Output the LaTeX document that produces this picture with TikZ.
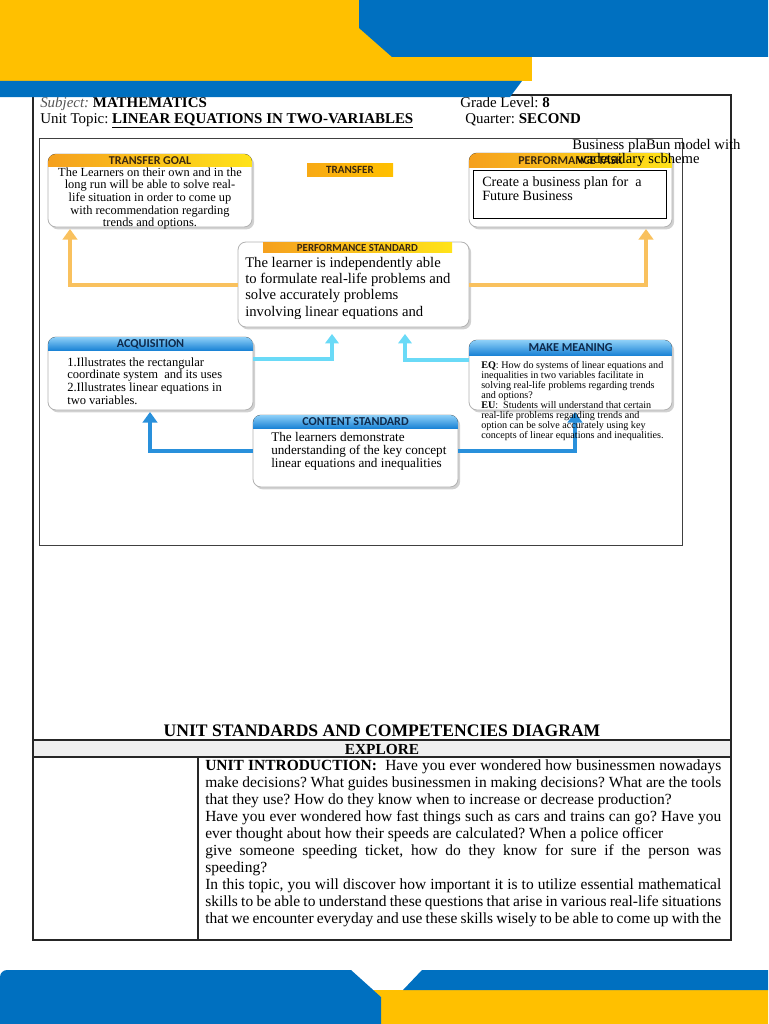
\documentclass[tikz,border=0pt]{standalone}
\usepackage{fontspec}
\setmainfont{Liberation Serif}
\newfontfamily\hdfont{Carlito}
\usetikzlibrary{shadows,arrows.meta,fit}
\definecolor{bannerY}{HTML}{FFC000}
\definecolor{bannerB}{HTML}{0070C0}
\definecolor{orgL}{HTML}{F5A01E}
\definecolor{orgR}{HTML}{FFE31A}
\definecolor{bluT}{HTML}{8ED0F8}
\definecolor{bluB}{HTML}{1C84D6}
\definecolor{lineO}{HTML}{F9C15E}
\definecolor{lineC}{HTML}{6ADAF7}
\definecolor{lineB}{HTML}{2990DB}
\definecolor{hdO}{HTML}{3A2810}
\definecolor{hdB}{HTML}{0E2A4C}
\definecolor{subj}{HTML}{555555}
\definecolor{explore}{HTML}{EFEFEF}
\newcommand\cardbox[8]{%
  \node[cardbody, fit={(#2,#3) (#4,#5)}] (#1) {};
  \begin{scope}
    \clip[rounded corners=6pt] (#2,#3) rectangle (#4,#5);
    \fill[#7] (#2,#3) rectangle (#4,#6);
  \end{scope}
  \node[#7text] at ({(#2+#4)/2},{(#3+#6)/2+0.5}) {#8};
}
\begin{document}
\frenchspacing
\begin{tikzpicture}[x=0.75pt,y=-0.75pt,
  cardbody/.style={draw=gray!60, fill=white, inner sep=0pt, rounded corners=6pt, line width=0.6pt,
    drop shadow={shadow xshift=1.6pt, shadow yshift=-1.8pt, opacity=0.45, fill=gray!80}},
  ohead/.style={left color=orgL, right color=orgR},
  bhead/.style={top color=bluT, bottom color=bluB},
  oheadtext/.style={font=\hdfont\bfseries\fontsize{9}{9.5}\selectfont, text=hdO, inner sep=0pt},
  bheadtext/.style={font=\hdfont\bfseries\fontsize{9.1}{9.5}\selectfont, text=hdB, inner sep=0pt},
  txt/.style={anchor=base west, inner sep=0pt},
  oarrow/.style={draw=lineO, line width=3pt, -{Triangle[width=11pt,length=8pt]}},
  carrow/.style={draw=lineC, line width=3pt, -{Triangle[width=10pt,length=7pt]}},
  barrow/.style={draw=lineB, line width=3.6pt, -{Triangle[width=11pt,length=8pt]}},
  tline/.style={draw=black!85, line width=0.8pt}]
\useasboundingbox (0,0) rectangle (768,1024);

% ---------- table frame ----------
\fill[explore] (33,740) rectangle (731,757);
\draw[tline] (33,95) rectangle (731,940);
\draw[tline] (33,740) -- (731,740);
\draw[tline] (33,757) -- (731,757);
\draw[tline] (198,757) -- (198,940);

% ---------- header ----------
\node[txt, font=\fontsize{11.2}{12}\selectfont] (subject) at (40,108) {\textcolor{subj}{\textit{Subject:}} \textbf{MATHEMATICS}};
\node[txt, font=\fontsize{11.2}{12}\selectfont] (grade) at (460,108) {Grade Level: \textbf{8}};
\node[txt, font=\fontsize{11.2}{12}\selectfont] (topic) at (40,123) {Unit Topic: \textbf{\underline{LINEAR EQUATIONS IN TWO-VARIABLES}}};
\node[txt, font=\fontsize{11.2}{12}\selectfont] (quarter) at (465,123) {Quarter: \textbf{SECOND}};

% ---------- diagram frame ----------
\draw[draw=black!75, line width=0.6pt] (39,138) rectangle (682,545);

% ---------- connector end points ----------
\coordinate (o1) at (70,229);
\coordinate (o2) at (646,229);
\coordinate (c1) at (332,334);
\coordinate (c2) at (405,334);
\coordinate (b1) at (150,412);
\coordinate (b2) at (575,412);

% ---------- cards ----------
\cardbox{tg}{48}{154}{252}{227}{166}{ohead}{TRANSFER GOAL}
\cardbox{pt}{469}{153}{672}{227}{167}{ohead}{PERFORMANCE TASK}
\node[cardbody, fit={(238,242) (469,327)}] (ps) {};
\fill[ohead] (263,242) rectangle (452,252);
\node[oheadtext, font=\hdfont\bfseries\fontsize{8.1}{8.5}\selectfont] (pshead) at (357.5,247.5) {PERFORMANCE STANDARD};
\cardbox{acq}{48}{337}{253}{410}{350}{bhead}{ACQUISITION}
\cardbox{mm}{469}{340}{672}{410}{355}{bhead}{MAKE MEANING}
\cardbox{cs}{253}{415}{458}{487}{428}{bhead}{CONTENT STANDARD}

% transfer label
\node[left color=orgL!70!bannerY, right color=bannerY, minimum width=64.5pt, minimum height=9.75pt, inner sep=0pt,
  font=\hdfont\bfseries\fontsize{8.3}{8.5}\selectfont, text=hdO] (transfer) at (350,169.5) {TRANSFER};

% connectors
\draw[oarrow] (ps.west) -| (o1);
\draw[oarrow] (ps.east) -| (o2);
\draw[carrow] ([yshift=10.9pt]acq.east) -| (c1);
\draw[carrow] ([yshift=11.2pt]mm.west) -| (c2);
\draw[barrow] (cs.west) -| (b1);
\draw[barrow] (cs.east) -| (b2);

% ---------- card texts ----------
\node[txt, anchor=base] (tgtext) at (150,176) {\parbox[t]{150pt}{\centering\fontsize{9.3}{9.5}\selectfont
The Learners on their own and in the\\ long run will be able to solve real-\\ life situation in order to come up\\ with recommendation regarding\\ trends and options.}};

\draw[black, line width=0.7pt] (473,170) rectangle (666,218);
\node[txt] (pttext) at (482,186) {\parbox[t]{142pt}{\fontsize{10.6}{10.9}\selectfont Create a business plan for~ a\\ Future Business}};

\begin{scope}
\clip (238,242) rectangle (469,318.5);
\node[txt] (pstext) at (245,267) {\parbox[t]{175pt}{\fontsize{11}{12.3}\selectfont
The learner is independently able\\ to formulate real-life problems and\\ solve accurately problems\\ involving linear equations and}};
\end{scope}

\node[txt] (acqtext) at (67,366) {\parbox[t]{150pt}{\fontsize{9.4}{9.6}\selectfont
1.Illustrates the rectangular\\ coordinate system~ and its uses\\ 2.Illustrates linear equations in\\ two variables.}};

\node[txt] (mmtext) at (481,368) {\parbox[t]{150pt}{\fontsize{7.6}{7.5}\selectfont
\textbf{EQ}: How do systems of linear equations and\\ inequalities in two variables facilitate in\\ solving real-life problems regarding trends\\ and options?\\ \textbf{EU}:~ Students will understand that certain\\ real-life problems regarding trends and\\ option can be solve accurately using key\\ concepts of linear equations and inequalities.}};

\node[txt] (cstext) at (271,441) {\parbox[t]{150pt}{\fontsize{9.9}{9.75}\selectfont
The learners demonstrate\\ understanding of the key concept\\ linear equations and inequalities}};

\node[txt] (stray) at (572,149) {\parbox[t]{140pt}{\fontsize{11}{11}\selectfont Business plaBun model with\\ \hspace*{3pt}wadetailary scbheme}};

% ---------- lower table texts ----------
\node[font=\bfseries\fontsize{13.2}{14}\selectfont, inner sep=0pt] (title) at (382,731) {UNIT STANDARDS AND COMPETENCIES DIAGRAM};
\node[font=\bfseries\fontsize{11.5}{13}\selectfont, inner sep=0pt] (explore) at (382,749) {EXPLORE};

\node[txt] (intro) at (205,770) {\parbox[t]{387pt}{\fontsize{11.6}{12.8}\selectfont\parfillskip=0pt
\textbf{UNIT INTRODUCTION:}~ Have you ever wondered how businessmen nowadays\linebreak
make decisions? What guides businessmen in making decisions? What are the tools\linebreak
that they use? How do they know when to increase or decrease production?\\
Have you ever wondered how fast things such as cars and trains can go? Have you\linebreak
ever thought about how their speeds are calculated? When a police officer\\
give someone speeding ticket, how do they know for sure if the person was\linebreak
speeding?\\
In this topic, you will discover how important it is to utilize essential mathematical\linebreak
skills to be able to understand these questions that arise in various real-life situations\linebreak
that we encounter everyday and use these skills wisely to be able to come up with the}};

% ---------- banners ----------
\fill[bannerY] (0,0) rectangle (532,81);
\fill[bannerB] (359,0) -- (768,0) -- (768,57) -- (392,57) -- (359,28) -- cycle;
\fill[bannerB] (0,81) -- (522,81) -- (510,97) -- (0,97) -- cycle;

\fill[bannerY] (373,990) -- (768,990) -- (768,1024) -- (381,1024) -- (381,997) -- cycle;
\fill[bannerB] (0,1024) -- (0,977) arc[start angle=180, end angle=270, radius=7] -- (351,970) -- (381,997) -- (381,1024) -- cycle;
\fill[bannerB] (422,970) -- (768,970) -- (768,990) -- (403,990) -- cycle;
\end{tikzpicture}
\end{document}
